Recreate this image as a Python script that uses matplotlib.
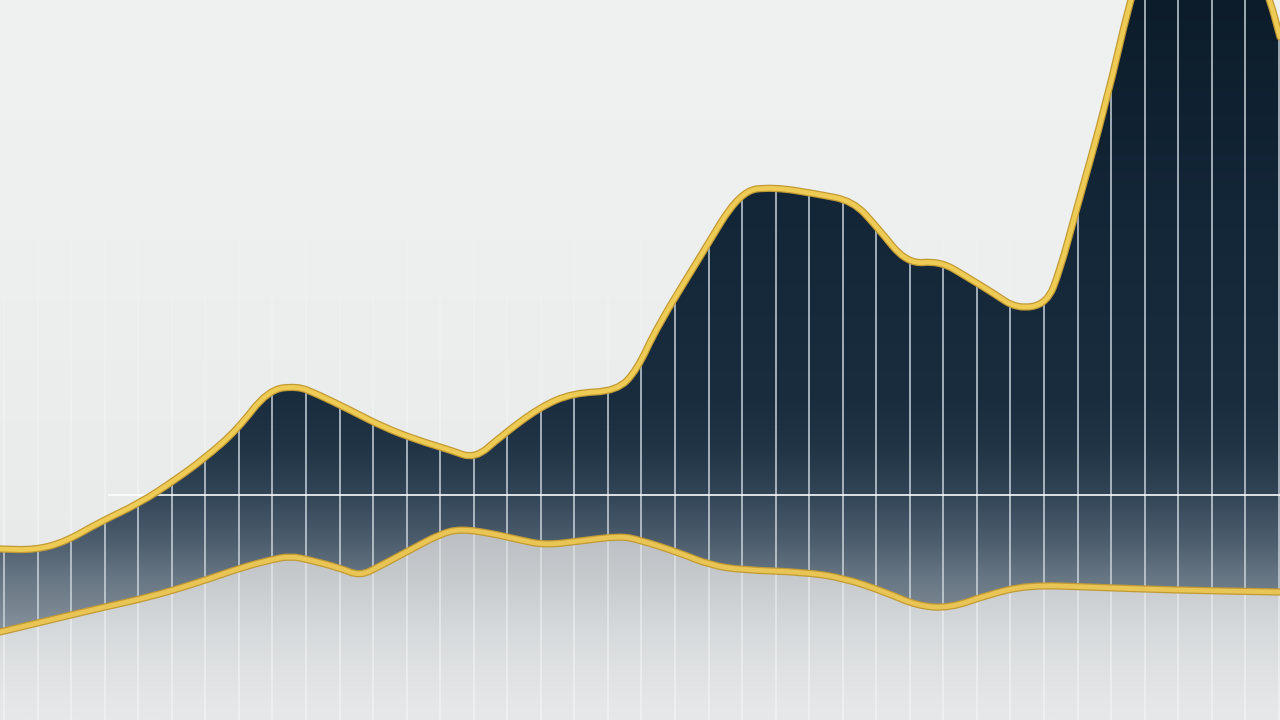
import numpy as np
import matplotlib.pyplot as plt
from matplotlib.colors import LinearSegmentedColormap
from matplotlib.path import Path
from matplotlib.patches import PathPatch

# upper (dark area) series
upper_x = [0, 35, 65, 100, 140, 175, 205, 237, 268, 297, 317, 350, 383, 417, 450, 475,
           500, 540, 573, 617, 637, 657, 700, 740, 773, 817, 853, 877, 907, 940, 967,
           993, 1017, 1047, 1060, 1075, 1107, 1130, 1140, 1260, 1270, 1280]
upper_y = [171, 170, 178, 198, 217, 240, 262, 290, 330, 334, 326, 310, 293, 280, 270, 261,
           283, 313, 327, 329, 350, 393, 463, 529, 533, 526, 519, 493, 456, 459, 443,
           427, 411, 416, 450, 505, 620, 720, 745, 745, 720, 683]

# lower series
lower_x = [0, 50, 100, 150, 200, 240, 270, 290, 310, 340, 360, 380, 410, 440, 460, 490,
           520, 545, 580, 620, 640, 680, 710, 742, 803, 844, 885, 918, 950, 987, 1028,
           1089, 1170, 1280]
lower_y = [88, 100, 112, 123, 138, 152, 160, 164, 160, 152, 144, 154, 170, 186, 191, 187,
           180, 175, 179, 184, 180, 167, 155, 150, 148, 142, 128, 114, 112, 125, 135,
           133, 130, 128]

W, H = 1280, 720


def smooth_verts(xs, ys):
    # quadratic bezier through midpoints, data points act as control points
    p = list(zip(xs, ys))
    verts = [p[0]]
    codes = [Path.LINETO]
    mids = [((p[i][0] + p[i + 1][0]) / 2, (p[i][1] + p[i + 1][1]) / 2) for i in range(len(p) - 1)]
    verts.append(mids[0])
    codes.append(Path.LINETO)
    for i in range(1, len(p) - 1):
        verts += [p[i], mids[i]]
        codes += [Path.CURVE3, Path.CURVE3]
    verts.append(p[-1])
    codes.append(Path.LINETO)
    return verts, codes


fig = plt.figure(figsize=(12.8, 7.2), dpi=100)
ax = fig.add_axes([0, 0, 1, 1])
ax.set_xlim(0, W)
ax.set_ylim(0, H)
ax.axis('off')

# background
bg = LinearSegmentedColormap.from_list('bg', ['#e3e6e7', '#eaeceb', '#eef0ef', '#f0f2f1'])
ax.imshow(np.linspace(0, 1, 256).reshape(-1, 1), cmap=bg, extent=[0, W, 0, H],
          origin='lower', aspect='auto', zorder=0)

grid_x = np.arange(4, W, 33.55)
fade_steps = np.linspace(0, 480, 13)
for i in range(len(fade_steps) - 1):
    a = 0.5 * (1 - i / (len(fade_steps) - 1)) ** 0.8
    ax.vlines(grid_x, fade_steps[i], fade_steps[i + 1], color='white', lw=1.3,
              alpha=a, zorder=1)

uv, uc = smooth_verts(upper_x, upper_y)
lv, lc = smooth_verts(lower_x, lower_y)
uc[0] = Path.MOVETO
lc_line = list(lc)
lc_line[0] = Path.MOVETO

# shadow below the lower line
sh_path = Path(lv + [(W, 0), (0, 0), lv[0]],
               [Path.MOVETO] + lc[1:] + [Path.LINETO, Path.LINETO, Path.CLOSEPOLY])
sh_patch = PathPatch(sh_path, facecolor='none', edgecolor='none')
ax.add_patch(sh_patch)
shade = LinearSegmentedColormap.from_list('shade', ['#e6e8e9', '#d8dbdd', '#c7cacd', '#b9bdc1'])
im = ax.imshow(np.linspace(0, 1, 256).reshape(-1, 1) ** 1.3, cmap=shade,
               extent=[0, W, 0, 195], origin='lower', aspect='auto', zorder=2)
im.set_clip_path(sh_patch)
sh_lines = ax.vlines(grid_x, 0, 200, color='white', lw=1.3, alpha=0.4, zorder=2.5)
sh_lines.set_clip_path(sh_patch)

# dark gradient area between the two lines
lv_rev = lv[::-1]
dk_path = Path(uv + lv_rev + [uv[0]],
               uc + [Path.LINETO] + lc[1:][::-1] + [Path.CLOSEPOLY])
dk_patch = PathPatch(dk_path, facecolor='none', edgecolor='none')
ax.add_patch(dk_patch)
dark = LinearSegmentedColormap.from_list(
    'dark', [(0.0, '#8a959e'), (0.031, '#7f8b96'), (0.094, '#687784'), (0.156, '#4b5c6c'),
             (0.227, '#324557'), (0.297, '#213546'), (0.375, '#1a2d3e'),
             (0.6875, '#132637'), (1.0, '#0c1c2a')])
im2 = ax.imshow(np.linspace(0, 1, 256).reshape(-1, 1), cmap=dark,
                extent=[0, W, 80, H], origin='lower', aspect='auto', zorder=3)
im2.set_clip_path(dk_patch)
dk_lines = ax.vlines(grid_x, 0, H, color='#cfd9e1', lw=1.4, alpha=0.75, zorder=3.5)
dk_lines.set_clip_path(dk_patch)

# horizontal reference line
ax.hlines(225, 108, W, color='white', lw=1.3, alpha=0.9, zorder=3.6)

# gold lines: darker edge stroke under a brighter core
for verts, codes, core in [(uv, uc, '#eecb55'), (lv, lc_line, '#e8c555')]:
    path = Path(verts, codes)
    ax.add_patch(PathPatch(path, facecolor='none', edgecolor='#c29a33', lw=5.2,
                           joinstyle='round', capstyle='round', zorder=5))
    ax.add_patch(PathPatch(path, facecolor='none', edgecolor=core, lw=3.4,
                           joinstyle='round', capstyle='round', zorder=5.1))

fig.savefig('out.png', dpi=100)
